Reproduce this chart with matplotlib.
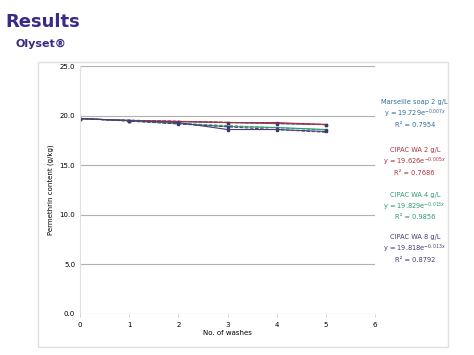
import numpy as np
import matplotlib.pyplot as plt
from matplotlib.patches import Rectangle

# datos
washes = [0, 1, 2, 3, 4, 5]
marseille = [19.7, 19.5, 19.4, 19.3, 19.2, 19.1]
wa2 = [19.7, 19.5, 19.4, 19.3, 19.3, 19.1]
wa4 = [19.7, 19.5, 19.2, 18.9, 18.8, 18.6]
wa8 = [19.7, 19.5, 19.3, 18.6, 18.6, 18.4]

names = ["Marseille soap 2 g/L", "CIPAC WA 2 g/L", "CIPAC WA 4 g/L", "CIPAC WA 8 g/L"]
eqs = ["y = 19.729e$^{-0.007x}$\nR² = 0.7954",
       "y = 19.626e$^{-0.005x}$\nR² = 0.7686",
       "y = 19.829e$^{-0.013x}$\nR² = 0.9856",
       "y = 19.818e$^{-0.013x}$\nR² = 0.8792"]
colors = ["#2f6f9f", "#b0303a", "#2e9a6e", "#4b3a78"]
yticks = [0.0, 5.0, 10.0, 15.0, 20.0, 25.0]

fig = plt.figure(figsize=(4.74, 3.55), dpi=100)

# marco del grafico
fig.patches.append(Rectangle((0.08, 0.022), 0.865, 0.803, transform=fig.transFigure,
                             fill=False, edgecolor="#e0e0e0", linewidth=1.0))

fig.text(0.012, 0.925, "Results", fontsize=13, fontweight="bold", color="#3b2a85")
fig.text(0.032, 0.868, "Olyset®", fontsize=8, fontweight="bold", color="#3b2a85")

ax = fig.add_axes([0.169, 0.1155, 0.622, 0.6985])
x = np.array(washes)
xs = np.linspace(0, 5, 50)
for s, c in zip([marseille, wa2, wa4, wa8], colors):
    ax.plot(x, s, color=c, linewidth=0.8)
    ax.plot(x, s, "s", color="#3b3b6b", markersize=2)
    b, a = np.polyfit(x, np.log(s), 1)
    ax.plot(xs, np.exp(a) * np.exp(b * xs), "--", color=c, linewidth=0.7)

ax.set_xlim(0, 6)
ax.set_ylim(0, 25)
ax.set_yticks(yticks)
ax.set_yticklabels(["%.1f" % v for v in yticks])
ax.set_xticks(range(7))
ax.grid(axis="y", color="#b0b0b0", linewidth=0.8)
for sp in ["top", "right", "bottom"]:
    ax.spines[sp].set_visible(False)
ax.spines["left"].set_color("#e0e0e0")
ax.tick_params(axis="both", labelsize=5, length=2, color="#c0c0c0", width=0.5)
ax.tick_params(axis="y", length=0)
ax.set_xlabel("No. of washes", fontsize=5, labelpad=2)
ax.set_ylabel("Permethrin content (g/kg)", fontsize=5, labelpad=4)

ypos = [0.72, 0.585, 0.46, 0.34]
for n, e, c, yp in zip(names, eqs, colors, ypos):
    fig.text(0.875, yp, n + "\n" + e, fontsize=4.8, color=c, ha="center", va="top",
             linespacing=1.3)

fig.savefig("out.png", dpi=100)
